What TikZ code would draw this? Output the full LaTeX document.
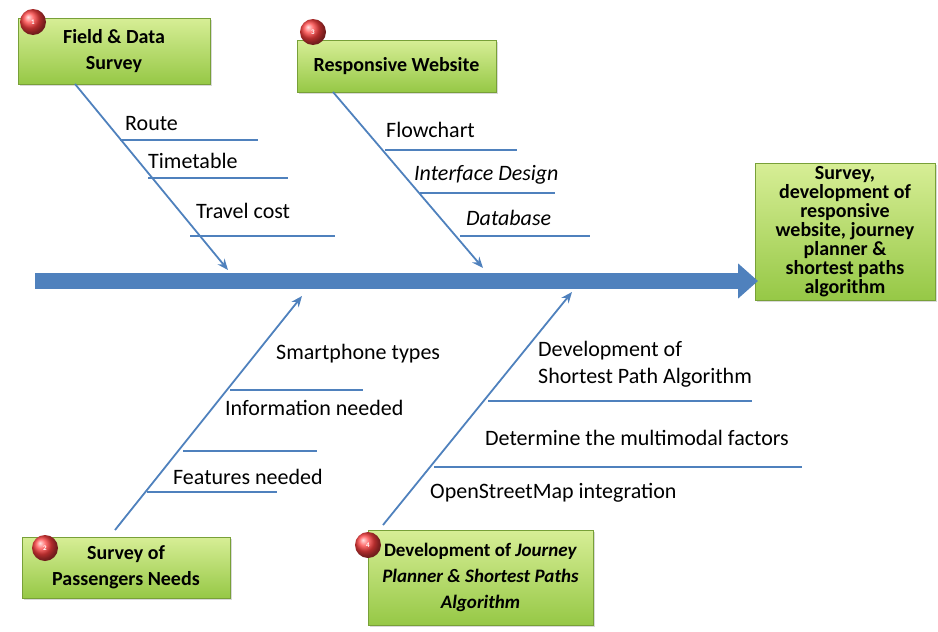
\documentclass[tikz,border=0pt]{standalone}
\usepackage{fontspec}
\setmainfont{Carlito}
\usetikzlibrary{arrows.meta,shadows}
\definecolor{bone}{RGB}{79,129,189}
\definecolor{gA}{RGB}{215,238,150}
\definecolor{gB}{RGB}{150,200,70}
\begin{document}
\begin{tikzpicture}[x=1pt,y=-1pt,
 box/.style={draw=gB!80!black,line width=0.5pt,top color=gA,bottom color=gB,drop shadow={opacity=0.3},font=\bfseries\fontsize{20}{26}\selectfont,align=center,inner sep=0pt},
 num/.style={circle,minimum size=26pt,inner sep=0pt,ball color=red!75!white,text=white,font=\bfseries\scriptsize},
 bonel/.style={draw=bone,line width=1.8pt,-{Stealth[length=11pt,width=9pt]}},
 rib/.style={draw=bone,line width=1.8pt},
 lab/.style={font=\fontsize{22}{27}\selectfont,anchor=west,inner sep=0pt}]
\useasboundingbox (0,0) rectangle (938,632);
\node[box,minimum width=192pt,minimum height=66pt] (b1) at (114,51) {Field \& Data\\Survey};
\node[num] (n1) at (33,22) {1};
\node[box,minimum width=199pt,minimum height=52pt] (b3) at (396.5,66) {Responsive Website};
\node[num] (n3) at (313,32) {3};
\node[box,minimum width=180pt,minimum height=137pt,font=\bfseries\fontsize{20}{19}\selectfont] (b5) at (845,231.5) {Survey,\\development of\\responsive\\website, journey\\planner \&\\shortest paths\\algorithm};
\node[box,minimum width=208pt,minimum height=61pt] (b2) at (126,567.5) {Survey of\\Passengers Needs};
\node[num] (n2) at (45,548) {2};
\node[box,minimum width=225pt,minimum height=95pt,font=\bfseries\fontsize{19}{26}\selectfont] (b4) at (480.5,577.5) {Development of \textit{Journey}\\\textit{Planner \& Shortest Paths}\\\textit{Algorithm}};
\node[num] (n4) at (368,545) {4};
% spine
\coordinate (s0) at (35,281);
\coordinate (s1) at (758,281);
\draw[bone,line width=16pt,-{Triangle[length=20pt,width=34pt]},draw=bone,fill=bone] (s0) -- (s1);
% bones
\coordinate (e1) at (228,270); \coordinate (e3) at (483,268);
\coordinate (e2) at (302,296); \coordinate (e4) at (572,292);
\draw[bonel] (75,84) -- (e1);
\draw[bonel] (333,92) -- (e3);
\draw[bonel] (115,530) -- (e2);
\draw[bonel] (383,525) -- (e4);
% ribs
\draw[rib] (120,140) -- (258,140);
\draw[rib] (148,178) -- (288,178);
\draw[rib] (190,236) -- (335,236);
\draw[rib] (385,150) -- (517,150);
\draw[rib] (420,193) -- (555,193);
\draw[rib] (460,236) -- (590,236);
\draw[rib] (230,390) -- (363,390);
\draw[rib] (183,451) -- (317,451);
\draw[rib] (147,492) -- (277,492);
\draw[rib] (488,401) -- (752,401);
\draw[rib] (434,467) -- (802,467);
% labels
\node[lab] (l1) at (125,124) {Route};
\node[lab] (l2) at (148,161) {Timetable};
\node[lab] (l3) at (196,211) {Travel cost};
\node[lab] (l4) at (386,130) {Flowchart};
\node[lab] (l5) at (414,175) {\itshape Interface Design};
\node[lab] (l6) at (466,218) {\itshape Database};
\node[lab] (l7) at (276,354) {Smartphone types};
\node[lab] (l8) at (225,408) {Information needed};
\node[lab] (l9) at (173,477) {Features needed};
\node[lab,align=left] (l10) at (538,364) {Development of\\Shortest Path Algorithm};
\node[lab] (l11) at (485,438) {Determine the multimodal factors};
\node[lab] (l12) at (430,493) {OpenStreetMap integration};
\end{tikzpicture}
\end{document}
